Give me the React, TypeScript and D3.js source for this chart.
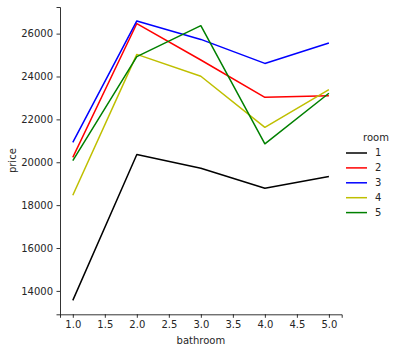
import React, { useEffect, useRef } from "react";
import * as d3 from "d3";

const bathrooms = [1, 2, 3, 4, 5];
const rooms = ["1", "2", "3", "4", "5"];
const roomColors = ["#000000", "#ff0000", "#0000ff", "#bfbf00", "#008000"];
// average price per room count, one value per bathroom count
const room1 = [13560, 20360, 19720, 18790, 19340];
const room2 = [20230, 26470, 24770, 23030, 23100];
const room3 = [20930, 26590, 25730, 24610, 25560];
const room4 = [18460, 25030, 24010, 21630, 23390];
const room5 = [20080, 24930, 26370, 20860, 23220];
const xTicks = [1.0, 1.5, 2.0, 2.5, 3.0, 3.5, 4.0, 4.5, 5.0];
const yTicks = [14000, 16000, 18000, 20000, 22000, 24000, 26000];

const App = () => {
  const ref = useRef<SVGSVGElement>(null);

  useEffect(() => {
    const svg = d3.select(ref.current);
    svg.selectAll("*").remove();

    const series = [room1, room2, room3, room4, room5];
    const left = 60, right = 341.7, top = 7, bottom = 314.3;

    // 5% padding like matplotlib autoscale
    const allVals = series.flat();
    const lo = d3.min(allVals)!, hi = d3.max(allVals)!;
    const pad = (hi - lo) * 0.05;
    const x = d3.scaleLinear().domain([0.8, 5.2]).range([left, right]);
    const y = d3.scaleLinear().domain([lo - pad, hi + pad]).range([bottom, top]);

    const font = "DejaVu Sans, sans-serif";

    const xAxis = svg.append("g")
      .attr("transform", `translate(0,${bottom})`)
      .call(d3.axisBottom(x).tickValues(xTicks).tickFormat(d3.format(".1f")).tickSizeOuter(0).tickSize(3.5).tickPadding(3.5));
    const yAxis = svg.append("g")
      .attr("transform", `translate(${left},0)`)
      .call(d3.axisLeft(y).tickValues(yTicks).tickFormat(d3.format("d")).tickSizeOuter(0).tickSize(3.5).tickPadding(3.5));

    [xAxis, yAxis].forEach(a => {
      a.selectAll("text").attr("font-family", font).attr("font-size", 10).attr("fill", "#262626");
      a.selectAll("line").attr("stroke", "#000").attr("stroke-width", 0.8);
      a.select(".domain").attr("stroke", "#000").attr("stroke-width", 0.8);
    });

    svg.append("text")
      .attr("x", (left + right) / 2).attr("y", 344)
      .attr("text-anchor", "middle")
      .attr("font-family", font).attr("font-size", 10).attr("fill", "#262626")
      .text("bathroom");
    svg.append("text")
      .attr("transform", `translate(16,${(top + bottom) / 2}) rotate(-90)`)
      .attr("text-anchor", "middle")
      .attr("font-family", font).attr("font-size", 10).attr("fill", "#262626")
      .text("price");

    const line = d3.line<number>()
      .x((_, i) => x(bathrooms[i]))
      .y(d => y(d));

    svg.append("g").selectAll("path")
      .data(series)
      .join("path")
      .attr("d", d => line(d))
      .attr("fill", "none")
      .attr("stroke", (_, i) => roomColors[i])
      .attr("stroke-width", 1.5)
      .attr("stroke-linejoin", "round");

    // legend
    const legend = svg.append("g");
    legend.append("text")
      .attr("x", 376).attr("y", 138)
      .attr("dominant-baseline", "middle")
      .attr("text-anchor", "middle")
      .attr("font-family", font).attr("font-size", 10).attr("fill", "#262626")
      .text("room");
    const item = legend.selectAll("g.item")
      .data(rooms)
      .join("g")
      .attr("class", "item")
      .attr("transform", (_, i) => `translate(0,${153 + i * 14.9})`);
    item.append("line")
      .attr("x1", 346).attr("x2", 367)
      .attr("stroke", (_, i) => roomColors[i])
      .attr("stroke-width", 1.5);
    item.append("text")
      .attr("x", 375)
      .attr("dominant-baseline", "middle")
      .attr("font-family", font).attr("font-size", 10).attr("fill", "#262626")
      .text(d => d);
  }, []);

  return (
    <div>
      <svg ref={ref} width={409} height={352} style={{ position: "absolute", left: 0, top: 0, background: "#fff" }} />
    </div>
  );
};

export default App;
